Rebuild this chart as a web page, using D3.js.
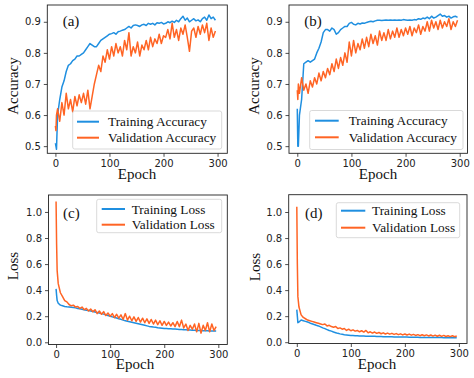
<!DOCTYPE html>
<html><head><meta charset="utf-8">
<script src="https://cdn.jsdelivr.net/npm/d3@7/dist/d3.min.js"></script>
<style>body{margin:0;background:#fff}svg{display:block}</style>
</head><body>
<svg id="chart" width="474" height="378"></svg>
<script>
const epochs = [0,1,2,4,
 8,12,16,20,24,28,32,36,40,
 44,48,52,56,60,64,68,72,76,80,
 84,88,92,96,100,104,108,112,116,120,
 124,128,132,136,140,144,148,152,156,160,
 164,168,172,176,180,184,188,192,196,200,
 204,208,212,216,220,224,228,232,236,240,
 244,248,252,256,260,264,268,272,276,280,
 284,288,292,296];

const trainAccA = [0.51,0.50,0.49,0.60,
 0.65,0.69,0.71,0.74,0.76,0.765,0.775,0.78,0.79,
 0.79,0.795,0.80,0.81,0.82,0.83,0.825,0.82,0.82,0.83,
 0.84,0.845,0.85,0.855,0.86,0.862,0.865,0.86,0.868,0.87,
 0.873,0.875,0.88,0.885,0.88,0.888,0.89,0.888,0.885,0.89,
 0.892,0.888,0.895,0.892,0.895,0.89,0.897,0.895,0.898,0.893,
 0.895,0.9,0.897,0.902,0.898,0.905,0.9,0.91,0.918,0.905,
 0.912,0.9,0.905,0.91,0.903,0.906,0.9,0.91,0.915,0.905,
 0.922,0.91,0.915,0.905];

const valAccA = [0.565,0.55,0.60,0.62,
 0.58,0.64,0.60,0.67,0.62,0.65,0.61,0.66,0.63,
 0.665,0.64,0.67,0.635,0.68,0.62,0.66,0.70,0.73,0.76,
 0.74,0.79,0.77,0.81,0.78,0.82,0.79,0.83,0.80,0.82,
 0.79,0.84,0.81,0.865,0.79,0.82,0.80,0.835,0.79,0.825,
 0.81,0.84,0.81,0.85,0.82,0.845,0.83,0.86,0.83,0.855,
 0.85,0.875,0.845,0.895,0.85,0.875,0.84,0.88,0.86,0.89,
 0.85,0.805,0.87,0.88,0.85,0.885,0.86,0.89,0.865,0.895,
 0.84,0.88,0.85,0.87];

const trainAccB = [0.62,0.50,0.50,0.60,
 0.65,0.765,0.77,0.775,0.77,0.775,0.78,0.80,0.815,
 0.835,0.865,0.875,0.875,0.87,0.88,0.875,0.86,0.865,0.875,
 0.88,0.885,0.885,0.895,0.898,0.892,0.89,0.895,0.893,0.896,
 0.895,0.898,0.9,0.902,0.9,0.903,0.905,0.905,0.904,0.905,
 0.906,0.905,0.906,0.905,0.906,0.905,0.906,0.905,0.907,0.906,
 0.905,0.906,0.905,0.907,0.906,0.91,0.908,0.912,0.91,0.915,
 0.91,0.918,0.912,0.915,0.92,0.925,0.918,0.92,0.915,0.918,
 0.912,0.916,0.918,0.914];

const valAccB = [0.68,0.65,0.70,0.67,
 0.72,0.68,0.70,0.67,0.71,0.69,0.72,0.70,0.735,
 0.71,0.74,0.72,0.75,0.73,0.765,0.74,0.78,0.75,0.785,
 0.76,0.80,0.77,0.835,0.79,0.84,0.80,0.83,0.81,0.845,
 0.815,0.85,0.82,0.86,0.83,0.855,0.825,0.87,0.84,0.865,
 0.84,0.875,0.845,0.87,0.85,0.88,0.85,0.875,0.855,0.88,
 0.86,0.885,0.855,0.88,0.865,0.89,0.86,0.885,0.87,0.90,
 0.87,0.905,0.88,0.90,0.875,0.905,0.88,0.90,0.885,0.91,
 0.875,0.90,0.885,0.905];

const trainLossC = [0.41,0.36,0.32,0.30,
 0.285,0.28,0.275,0.272,0.27,0.268,0.266,0.264,0.26,
 0.257,0.253,0.25,0.246,0.243,0.24,0.236,0.232,0.228,0.224,
 0.22,0.216,0.21,0.205,0.2,0.195,0.19,0.186,0.18,0.176,
 0.17,0.166,0.162,0.158,0.154,0.15,0.146,0.142,0.138,0.134,
 0.13,0.126,0.122,0.12,0.117,0.115,0.112,0.11,0.108,0.106,
 0.105,0.104,0.103,0.102,0.101,0.1,0.099,0.098,0.097,0.096,
 0.095,0.094,0.093,0.092,0.091,0.09,0.09,0.089,0.088,0.088,
 0.087,0.087,0.086,0.086];

const valLossC = [1.08,0.75,0.55,0.45,
 0.38,0.35,0.32,0.31,0.29,0.28,0.285,0.27,0.275,
 0.26,0.27,0.25,0.26,0.24,0.255,0.235,0.25,0.22,0.24,
 0.215,0.235,0.205,0.225,0.2,0.22,0.19,0.215,0.185,0.21,
 0.175,0.22,0.17,0.2,0.165,0.195,0.16,0.19,0.155,0.185,
 0.15,0.18,0.145,0.175,0.14,0.17,0.135,0.165,0.13,0.16,
 0.13,0.155,0.125,0.15,0.12,0.16,0.12,0.17,0.11,0.14,
 0.09,0.13,0.1,0.14,0.08,0.145,0.07,0.13,0.09,0.15,
 0.08,0.14,0.09,0.12];

const trainLossD = [0.25,0.20,0.15,0.155,
 0.17,0.165,0.16,0.155,0.148,0.142,0.136,0.13,0.125,
 0.118,0.11,0.104,0.097,0.09,0.085,0.078,0.073,0.068,0.064,
 0.061,0.058,0.056,0.054,0.052,0.051,0.05,0.049,0.048,0.047,
 0.047,0.046,0.046,0.045,0.045,0.046,0.044,0.043,0.043,0.042,
 0.042,0.041,0.041,0.041,0.04,0.04,0.04,0.039,0.039,0.039,
 0.039,0.038,0.038,0.038,0.038,0.038,0.037,0.037,0.037,0.037,
 0.037,0.036,0.036,0.036,0.036,0.036,0.036,0.035,0.035,0.035,
 0.035,0.035,0.035,0.035];

const valLossD = [1.04,0.60,0.35,0.27,
 0.21,0.19,0.18,0.17,0.165,0.16,0.155,0.15,0.145,
 0.14,0.135,0.14,0.125,0.13,0.12,0.115,0.12,0.105,0.11,
 0.1,0.105,0.09,0.1,0.088,0.095,0.085,0.09,0.08,0.088,
 0.078,0.09,0.072,0.08,0.07,0.078,0.068,0.075,0.065,0.072,
 0.063,0.07,0.062,0.068,0.06,0.066,0.058,0.064,0.056,0.063,
 0.055,0.062,0.054,0.06,0.052,0.058,0.05,0.057,0.05,0.056,
 0.048,0.055,0.047,0.054,0.046,0.053,0.045,0.052,0.044,0.05,
 0.043,0.05,0.042,0.048];

const accTicks = [0.5,0.6,0.7,0.8,0.9];
const lossTicks = [0.0,0.2,0.4,0.6,0.8,1.0];
const epochTicks = [0,100,200,300];
const accNames = ["Training Accuracy","Validation Accuracy"];
const lossNames = ["Training Loss","Validation Loss"];
const panelLabels = ["(a)","(b)","(c)","(d)"];

const BLUE = "#1f8fe0", ORANGE = "#ff6424";
const SERIF = "'Liberation Serif','Times New Roman',serif";
const SANS = "'DejaVu Sans',sans-serif";

const panels = [
 {lab:panelLabels[0], x0:47.3, x1:227.3, y0:5, y1:153.3, xd:[-15,318], yd:[0.477,0.954], ticks:accTicks, ylabel:"Accuracy",
  train:trainAccA, val:valAccA, names:accNames, labX:62.7, labY:25.5, ylx:18, yly:86, xlx:137, xly:179,
  leg:{x:72.7,y:111,w:149,h:38,r1:121.7,r2:137.7,lx0:77,lx1:99,tx:108}},
 {lab:panelLabels[1], x0:289, x1:467.5, y0:5, y1:153.3, xd:[-15.3,314.4], yd:[0.477,0.954], ticks:accTicks, ylabel:"Accuracy",
  train:trainAccB, val:valAccB, names:accNames, labX:304.3, labY:25.5, ylx:259, yly:86, xlx:378, xly:179,
  leg:{x:309.7,y:110.5,w:153.3,h:39,r1:120.7,r2:137.3,lx0:315,lx1:338.7,tx:348.7}},
 {lab:panelLabels[2], x0:48.5, x1:227.3, y0:195, y1:344.5, xd:[-14,316.6], yd:[-0.017,1.130], ticks:lossTicks, ylabel:"Loss",
  train:trainLossC, val:valLossC, names:lossNames, labX:63, labY:217.5, ylx:18, yly:266, xlx:135, xly:369,
  leg:{x:96.7,y:199.3,w:125,h:33.4,r1:209,r2:224.7,lx0:101.7,lx1:125,tx:131.7}},
 {lab:panelLabels[3], x0:288.7, x1:467, y0:194.7, y1:343.5, xd:[-15,315], yd:[-0.01,1.133], ticks:lossTicks, ylabel:"Loss",
  train:trainLossD, val:valLossD, names:lossNames, labX:305, labY:218, ylx:260, yly:267, xlx:377, xly:369,
  leg:{x:336.3,y:202.7,w:123.4,h:35,r1:210.7,r2:227.7,lx0:341,lx1:365.3,tx:372}}
];

const svg = d3.select("#chart");
svg.append("rect").attr("width",474).attr("height",378).attr("fill","#fff");

panels.forEach(p => {
  const x = d3.scaleLinear().domain(p.xd).range([p.x0, p.x1]);
  const y = d3.scaleLinear().domain(p.yd).range([p.y1, p.y0]);
  const g = svg.append("g");
  const clipId = "clip" + p.lab.replace(/\W/g,"");
  svg.append("clipPath").attr("id", clipId).append("rect")
    .attr("x", p.x0).attr("y", p.y0).attr("width", p.x1-p.x0).attr("height", p.y1-p.y0);

  const n = Math.min(epochs.length, p.train.length, p.val.length);
  const line = d3.line().x(i => x(epochs[i])).y(i => y(d[i]));
  let d;
  const idx = d3.range(n);
  d = p.train;
  g.append("path").attr("clip-path",`url(#${clipId})`).attr("d", line(idx))
    .attr("fill","none").attr("stroke",BLUE).attr("stroke-width",1.5).attr("stroke-linejoin","round");
  d = p.val;
  g.append("path").attr("clip-path",`url(#${clipId})`).attr("d", line(idx))
    .attr("fill","none").attr("stroke",ORANGE).attr("stroke-width",1.5).attr("stroke-linejoin","round");

  // axes
  const xa = d3.axisBottom(x).tickValues(epochTicks).tickSize(3.5).tickPadding(3).tickFormat(d3.format("d"));
  const ya = d3.axisLeft(y).tickValues(p.ticks).tickSize(3.5).tickPadding(3).tickFormat(d3.format(".1f"));
  const gx = g.append("g").attr("transform",`translate(0,${p.y1})`).call(xa);
  const gy = g.append("g").attr("transform",`translate(${p.x0},0)`).call(ya);
  [gx, gy].forEach(a => {
    a.select(".domain").remove();
    a.selectAll(".tick line").attr("stroke","#222").attr("stroke-width",0.8);
    a.selectAll(".tick text").attr("fill","#222").style("font-family",SANS).style("font-size","10px");
  });

  // frame
  g.append("rect").attr("x",p.x0).attr("y",p.y0).attr("width",p.x1-p.x0).attr("height",p.y1-p.y0)
    .attr("fill","none").attr("stroke","#222").attr("stroke-width",0.9);

  // panel label
  g.append("text").attr("x",p.labX).attr("y",p.labY).text(p.lab)
    .style("font-family",SERIF).style("font-size","15px").attr("fill","#111");

  // axis labels
  g.append("text").attr("transform",`translate(${p.ylx},${p.yly}) rotate(-90)`).attr("text-anchor","middle")
    .text(p.ylabel).style("font-family",SERIF).style("font-size","15px").attr("fill","#111");
  g.append("text").attr("x",p.xlx).attr("y",p.xly).attr("text-anchor","middle")
    .text("Epoch").style("font-family",SERIF).style("font-size","15px").attr("fill","#111");

  // legend
  const L = p.leg;
  g.append("rect").attr("x",L.x).attr("y",L.y).attr("width",L.w).attr("height",L.h).attr("rx",2)
    .attr("fill","#fff").attr("fill-opacity",0.85).attr("stroke","#cfcfcf").attr("stroke-width",0.8);
  [[L.r1,BLUE,p.names[0]],[L.r2,ORANGE,p.names[1]]].forEach(([ry,c,t]) => {
    g.append("line").attr("x1",L.lx0).attr("x2",L.lx1).attr("y1",ry).attr("y2",ry)
      .attr("stroke",c).attr("stroke-width",2);
    g.append("text").attr("x",L.tx).attr("y",ry+4.5).text(t)
      .style("font-family",SERIF).style("font-size","13.3px").attr("fill","#111");
  });
});
</script>
</body></html>
